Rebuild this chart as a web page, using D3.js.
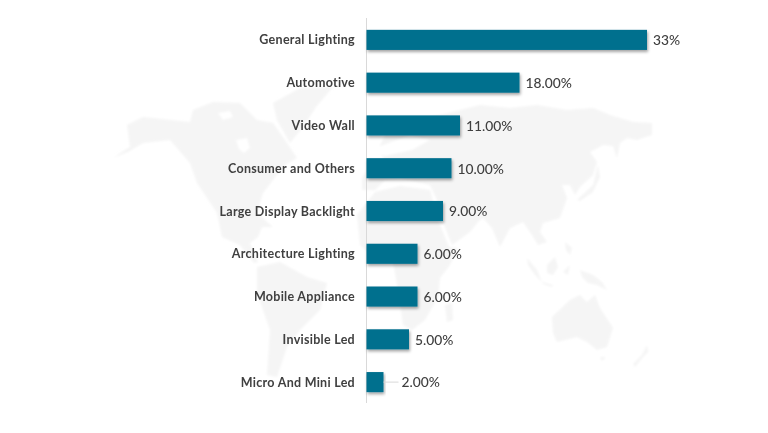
<!DOCTYPE html>
<html><head><meta charset="utf-8">
<script src="https://cdn.jsdelivr.net/npm/d3@7"></script>
<style>html,body{margin:0;padding:0;background:#fff}svg{display:block}</style></head>
<body><svg id="c" width="768" height="433"></svg>
<script>
const categories=["General Lighting","Automotive","Video Wall","Consumer and Others","Large Display Backlight","Architecture Lighting","Mobile Appliance","Invisible Led","Micro And Mini Led"];
const values=[33,18,11,10,9,6,6,5,2];
const valueLabels=["33%","18.00%","11.00%","10.00%","9.00%","6.00%","6.00%","5.00%","2.00%"];
// decorative world-map backdrop (page pixels)
const land=[
 // North + Central America
 [[113,158],[125,150],[130,147],[127,125],[143,117],[190,122],[193,110],[213,102],[240,103],[257,120],[273,123],[287,143],[297,158],[285,165],[273,180],[263,193],[257,213],[273,227],[262,227],[258,237],[250,243],[258,262],[254,263],[240,245],[222,237],[217,213],[197,183],[190,163],[170,140],[143,143],[128,152]],
 // Greenland
 [[273,103],[300,88],[333,87],[316,107],[303,127],[290,143],[277,120]],
 // South America
 [[257,267],[280,262],[307,277],[327,283],[320,310],[300,330],[287,347],[277,377],[267,375],[270,330],[257,293]],
 // Africa
 [[357,215],[375,192],[400,186],[430,190],[438,220],[449,247],[458,248],[450,265],[440,278],[438,297],[425,320],[412,330],[403,325],[398,290],[393,262],[375,258],[360,245]],
 // Eurasia
 [[362,178],[370,165],[385,160],[378,150],[385,135],[410,120],[440,115],[480,105],[510,108],[537,105],[567,110],[593,108],[610,115],[633,122],[652,123],[652,135],[637,140],[627,138],[620,143],[617,158],[613,146],[603,145],[590,152],[597,162],[593,175],[580,187],[575,195],[570,185],[562,185],[567,198],[560,218],[543,223],[540,232],[547,242],[538,245],[532,235],[523,222],[510,228],[500,247],[492,228],[483,218],[478,222],[470,232],[452,245],[443,222],[437,200],[430,185],[400,178],[385,180],[375,190],[362,190]],
 // Madagascar
 [[445,305],[452,303],[453,320],[447,322]],
 // Australia
 [[552,317],[570,300],[580,295],[587,302],[595,295],[600,308],[613,328],[607,347],[597,350],[587,342],[577,337],[557,342],[553,333]],
 // Tasmania
 [[600,357],[606,357],[602,361]],
 // New Zealand
 [[647,345],[648,352],[643,357],[635,367],[633,364],[642,355]],
 // New Guinea
 [[580,270],[593,275],[602,282],[607,290],[597,285],[588,283],[582,277]],
 // Sumatra
 [[527,258],[537,270],[542,282],[535,275],[528,265]],
 // Java
 [[542,282],[553,285],[552,287],[543,284]],
 // Borneo
 [[547,265],[555,257],[558,267],[553,275],[547,273]],
 // Philippines
 [[565,242],[572,248],[570,255],[566,250]],
 // Sulawesi
 [[563,272],[570,265],[568,275]],
 // Japan
 [[577,200],[593,185],[598,165],[600,177],[593,192],[580,201]]
];
const water=[
 [[236,140],[247,138],[250,148],[244,153],[239,149]],
 [[218,113],[230,111],[233,117],[223,120]],
 [[370,150],[410,135],[430,140],[412,150],[385,156]],
 [[378,170],[420,165],[440,172],[425,178],[395,174]]
];
const svg=d3.select("#c");
const defs=svg.append("defs");
const f=defs.append("filter").attr("id","sh").attr("x","-10%").attr("y","-20%").attr("width","120%").attr("height","150%");
f.append("feDropShadow").attr("dx",1).attr("dy",2).attr("stdDeviation",1.8).attr("flood-color","#000").attr("flood-opacity",0.36);
defs.append("filter").attr("id","soft").append("feGaussianBlur").attr("stdDeviation",0.35);
defs.append("filter").attr("id","mapsoft").append("feGaussianBlur").attr("stdDeviation",0.9);
const curve=d3.line().curve(d3.curveLinearClosed);
const map=svg.append("g").attr("filter","url(#mapsoft)");
map.selectAll("path.l").data(land).join("path").attr("class","l").attr("d",d=>curve(d)).attr("fill","#f5f5f5");
map.selectAll("path.w").data(water).join("path").attr("class","w").attr("d",d=>curve(d)).attr("fill","#fff");
const x=d3.scaleLinear().domain([0,33]).range([366.5,647]);
const y=d3.scaleBand().domain(categories).range([18,403]).paddingInner(0.53).paddingOuter(0.265);
const rows=categories.map((c,i)=>({c,v:values[i],l:valueLabels[i]}));
svg.append("line").attr("x1",x(0)).attr("x2",x(0)).attr("y1",18).attr("y2",403).attr("stroke","#d9d9d9").attr("stroke-width",1);
svg.append("g").selectAll("rect").data(rows).join("rect")
 .attr("x",x(0)).attr("y",d=>y(d.c)+0.5).attr("width",d=>x(d.v)-x(0)).attr("height",y.bandwidth())
 .attr("fill","#006f8e").attr("filter","url(#sh)");
const mid=d=>y(d.c)+y.bandwidth()/2;
svg.append("g").attr("filter","url(#soft)").selectAll("text").data(rows).join("text")
 .attr("x",355).attr("y",d=>mid(d)+0.7).attr("dy","0.35em").attr("text-anchor","end")
 .attr("font-family","Lato").attr("font-weight",700).attr("font-size",12.5).attr("letter-spacing",0.28).attr("fill","#404040").text(d=>d.c);
svg.append("g").attr("filter","url(#soft)").selectAll("text").data(rows).join("text")
 .attr("x",d=>x(d.v)+(d.v===2?18:6)).attr("y",d=>mid(d)+1).attr("dy","0.35em")
 .attr("font-family","Lato").attr("font-weight",500).attr("font-size",13.8).attr("fill","#404040").text(d=>d.l);
svg.append("g").selectAll("line").data(rows.filter(d=>d.v===2)).join("line")
 .attr("x1",d=>x(d.v)).attr("x2",d=>x(d.v)+15).attr("y1",d=>mid(d)+0.5).attr("y2",d=>mid(d)+0.5).attr("stroke","#d9d9d9");
</script></body></html>
